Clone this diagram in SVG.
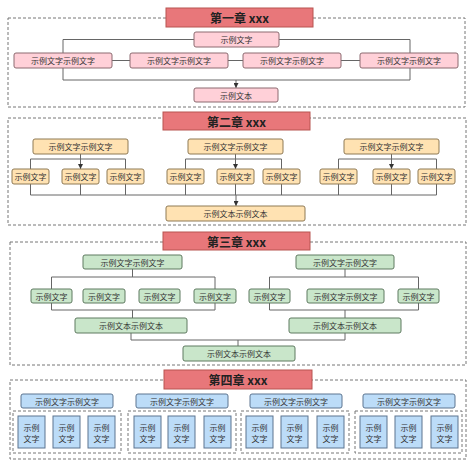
<svg xmlns="http://www.w3.org/2000/svg" width="474" height="466" viewBox="0 0 474 466">
<defs>
<style>
text{font-family:"Noto Sans CJK SC","Noto Sans",sans-serif;fill:#333;text-anchor:middle;dominant-baseline:central;font-size:8px}
.t text{font-size:12px;font-weight:bold;fill:#222}
.t rect{fill:#e8777a;stroke:#b85450;stroke-width:1}
.frame{fill:none;stroke:#777;stroke-width:1;stroke-dasharray:3 2}
.p rect{fill:#ffd0d8;stroke:#8c6a70;stroke-width:1}
.o rect{fill:#ffe2b2;stroke:#8f7a55;stroke-width:1}
.g rect{fill:#c9e6ca;stroke:#5f7a60;stroke-width:1}
.b rect{fill:#bcdcf8;stroke:#5c7590;stroke-width:1}
#connectors path{fill:none;stroke:#666;stroke-width:1}
</style>
<marker id="arr" viewBox="0 0 6 6" refX="6" refY="3" markerWidth="5" markerHeight="5" orient="auto" markerUnits="userSpaceOnUse">
<path d="M0,0 L6,3 L0,6 z" fill="#333"/>
</marker>
</defs>
<rect width="474" height="466" fill="#fff"/>
<g id="frames">
<rect class="frame" x="8" y="18" width="457" height="89"/>
<rect class="frame" x="8" y="118" width="458" height="107"/>
<rect class="frame" x="10" y="242" width="456" height="123"/>
<rect class="frame" x="10" y="380" width="456" height="79"/>
<rect class="frame" x="13" y="411" width="108" height="42"/>
<rect class="frame" x="128" y="411" width="108" height="42"/>
<rect class="frame" x="241" y="411" width="108" height="42"/>
<rect class="frame" x="355" y="411" width="107" height="42"/>
</g>
<g id="connectors">
<path d="M194,39.5 H63 V80 H410 V39.5 H279"/>
<path d="M236,80 V88" marker-end="url(#arr)"/>
<path d="M112,60.5 H130 M228,60.5 H243 M341,60.5 H360"/>
<path d="M30.5,169 V159 H125.5 V169"/>
<path d="M80.5,154 V169" marker-end="url(#arr)"/>
<path d="M185.5,169 V159 H281.5 V169"/>
<path d="M235.5,154 V169" marker-end="url(#arr)"/>
<path d="M338.5,169 V159 H436.5 V169"/>
<path d="M391.5,154 V169" marker-end="url(#arr)"/>
<path d="M30.5,184 V195 H436.5 V184 M80.5,184 V195 M125.5,184 V195 M185.5,184 V195 M235.5,184 V195 M281.5,184 V195 M338.5,184 V195 M391.5,184 V195"/>
<path d="M236,195 V206" marker-end="url(#arr)"/>
<path d="M51.5,289 V277 H215 V289 M132.5,269 V277"/>
<path d="M51.5,303 V310 H215 V303 M132.5,310 V318"/>
<path d="M269.5,289 V277 H418.5 V289 M345,269 V277"/>
<path d="M269.5,303 V310 H418.5 V303 M345,310 V318"/>
<path d="M131,333 V340 H345 V333 M238,340 V346"/>
</g>
<g id="s1" class="p">
<g id="n1-top"><rect x="194" y="32" width="85" height="15" rx="2"/><text x="236.5" y="39.5">示例文字</text></g>
<g id="n1-a"><rect x="14" y="53" width="98" height="15" rx="2"/><text x="63" y="60.5">示例文字示例文字</text></g>
<g id="n1-b"><rect x="130" y="53" width="98" height="15" rx="2"/><text x="179" y="60.5">示例文字示例文字</text></g>
<g id="n1-c"><rect x="243" y="53" width="98" height="15" rx="2"/><text x="292" y="60.5">示例文字示例文字</text></g>
<g id="n1-d"><rect x="360" y="53" width="98" height="15" rx="2"/><text x="409" y="60.5">示例文字示例文字</text></g>
<g id="n1-bottom"><rect x="194" y="88" width="84" height="14" rx="2"/><text x="236" y="95">示例文本</text></g>
</g>
<g id="s2" class="o">
<g id="n2-g1"><rect x="33" y="139" width="95" height="15" rx="2"/><text x="80.5" y="146.5">示例文字示例文字</text></g>
<g id="n2-g2"><rect x="188" y="139" width="95" height="15" rx="2"/><text x="235.5" y="146.5">示例文字示例文字</text></g>
<g id="n2-g3"><rect x="344" y="139" width="95" height="15" rx="2"/><text x="391.5" y="146.5">示例文字示例文字</text></g>
<g id="n2-c1"><rect x="12" y="169" width="37" height="15" rx="2"/><text x="30.5" y="176.5">示例文字</text></g>
<g id="n2-c2"><rect x="62" y="169" width="37" height="15" rx="2"/><text x="80.5" y="176.5">示例文字</text></g>
<g id="n2-c3"><rect x="107" y="169" width="37" height="15" rx="2"/><text x="125.5" y="176.5">示例文字</text></g>
<g id="n2-c4"><rect x="167" y="169" width="37" height="15" rx="2"/><text x="185.5" y="176.5">示例文字</text></g>
<g id="n2-c5"><rect x="217" y="169" width="37" height="15" rx="2"/><text x="235.5" y="176.5">示例文字</text></g>
<g id="n2-c6"><rect x="263" y="169" width="37" height="15" rx="2"/><text x="281.5" y="176.5">示例文字</text></g>
<g id="n2-c7"><rect x="320" y="169" width="37" height="15" rx="2"/><text x="338.5" y="176.5">示例文字</text></g>
<g id="n2-c8"><rect x="373" y="169" width="37" height="15" rx="2"/><text x="391.5" y="176.5">示例文字</text></g>
<g id="n2-c9"><rect x="418" y="169" width="37" height="15" rx="2"/><text x="436.5" y="176.5">示例文字</text></g>
<g id="n2-bottom"><rect x="166" y="206" width="139" height="15" rx="2"/><text x="235.5" y="213.5">示例文本示例文本</text></g>
</g>
<g id="s3" class="g">
<g id="n3-l"><rect x="83" y="255" width="99" height="14" rx="2"/><text x="132.5" y="262">示例文字示例文字</text></g>
<g id="n3-l1"><rect x="31" y="289" width="41" height="14" rx="2"/><text x="51.5" y="296">示例文字</text></g>
<g id="n3-l2"><rect x="83" y="289" width="42" height="14" rx="2"/><text x="104" y="296">示例文字</text></g>
<g id="n3-l3"><rect x="139" y="289" width="41" height="14" rx="2"/><text x="159.5" y="296">示例文字</text></g>
<g id="n3-l4"><rect x="194" y="289" width="42" height="14" rx="2"/><text x="215" y="296">示例文字</text></g>
<g id="n3-lb"><rect x="75" y="318" width="112" height="15" rx="2"/><text x="131" y="325.5">示例文本示例文本</text></g>
<g id="n3-r"><rect x="296" y="255" width="98" height="14" rx="2"/><text x="345" y="262">示例文字示例文字</text></g>
<g id="n3-r1"><rect x="249" y="289" width="41" height="14" rx="2"/><text x="269.5" y="296">示例文字</text></g>
<g id="n3-r2"><rect x="307" y="289" width="77" height="14" rx="2"/><text x="345.5" y="296">示例文字示例文字</text></g>
<g id="n3-r3"><rect x="398" y="289" width="41" height="14" rx="2"/><text x="418.5" y="296">示例文字</text></g>
<g id="n3-rb"><rect x="289" y="318" width="112" height="15" rx="2"/><text x="345" y="325.5">示例文本示例文本</text></g>
<g id="n3-final"><rect x="183" y="346" width="112" height="15" rx="2"/><text x="239" y="353.5">示例文本示例文本</text></g>
</g>
<g id="s4" class="b">
<g id="n4-g1"><rect x="21" y="394" width="92" height="14" rx="2"/><text x="67" y="401">示例文字示例文字</text></g>
<g id="n4-g2"><rect x="136" y="394" width="92" height="14" rx="2"/><text x="182" y="401">示例文字示例文字</text></g>
<g id="n4-g3"><rect x="250" y="394" width="92" height="14" rx="2"/><text x="296" y="401">示例文字示例文字</text></g>
<g id="n4-g4"><rect x="363" y="394" width="92" height="14" rx="2"/><text x="409" y="401">示例文字示例文字</text></g>
<g id="n4-c1"><rect x="18" y="416" width="27" height="32"/><text x="31.5" y="427">示例</text><text x="31.5" y="438">文字</text></g>
<g id="n4-c2"><rect x="53" y="416" width="27" height="32"/><text x="66.5" y="427">示例</text><text x="66.5" y="438">文字</text></g>
<g id="n4-c3"><rect x="88" y="416" width="27" height="32"/><text x="101.5" y="427">示例</text><text x="101.5" y="438">文字</text></g>
<g id="n4-c4"><rect x="134" y="416" width="27" height="32"/><text x="147.5" y="427">示例</text><text x="147.5" y="438">文字</text></g>
<g id="n4-c5"><rect x="168" y="416" width="27" height="32"/><text x="181.5" y="427">示例</text><text x="181.5" y="438">文字</text></g>
<g id="n4-c6"><rect x="204" y="416" width="27" height="32"/><text x="217.5" y="427">示例</text><text x="217.5" y="438">文字</text></g>
<g id="n4-c7"><rect x="246" y="416" width="27" height="32"/><text x="259.5" y="427">示例</text><text x="259.5" y="438">文字</text></g>
<g id="n4-c8"><rect x="281" y="416" width="27" height="32"/><text x="294.5" y="427">示例</text><text x="294.5" y="438">文字</text></g>
<g id="n4-c9"><rect x="317" y="416" width="27" height="32"/><text x="330.5" y="427">示例</text><text x="330.5" y="438">文字</text></g>
<g id="n4-c10"><rect x="360" y="416" width="27" height="32"/><text x="373.5" y="427">示例</text><text x="373.5" y="438">文字</text></g>
<g id="n4-c11"><rect x="395" y="416" width="27" height="32"/><text x="408.5" y="427">示例</text><text x="408.5" y="438">文字</text></g>
<g id="n4-c12"><rect x="431" y="416" width="27" height="32"/><text x="444.5" y="427">示例</text><text x="444.5" y="438">文字</text></g>
</g>
<g id="titles" class="t">
<g id="title1"><rect x="166" y="8" width="147" height="19"/><text x="239.5" y="17.5">第一章 xxx</text></g>
<g id="title2"><rect x="163" y="112" width="147" height="18"/><text x="236.5" y="121">第二章 xxx</text></g>
<g id="title3"><rect x="163" y="232" width="147" height="18"/><text x="236.5" y="241">第三章 xxx</text></g>
<g id="title4"><rect x="164" y="370" width="148" height="19"/><text x="238" y="379.5">第四章 xxx</text></g>
</g>
</svg>
